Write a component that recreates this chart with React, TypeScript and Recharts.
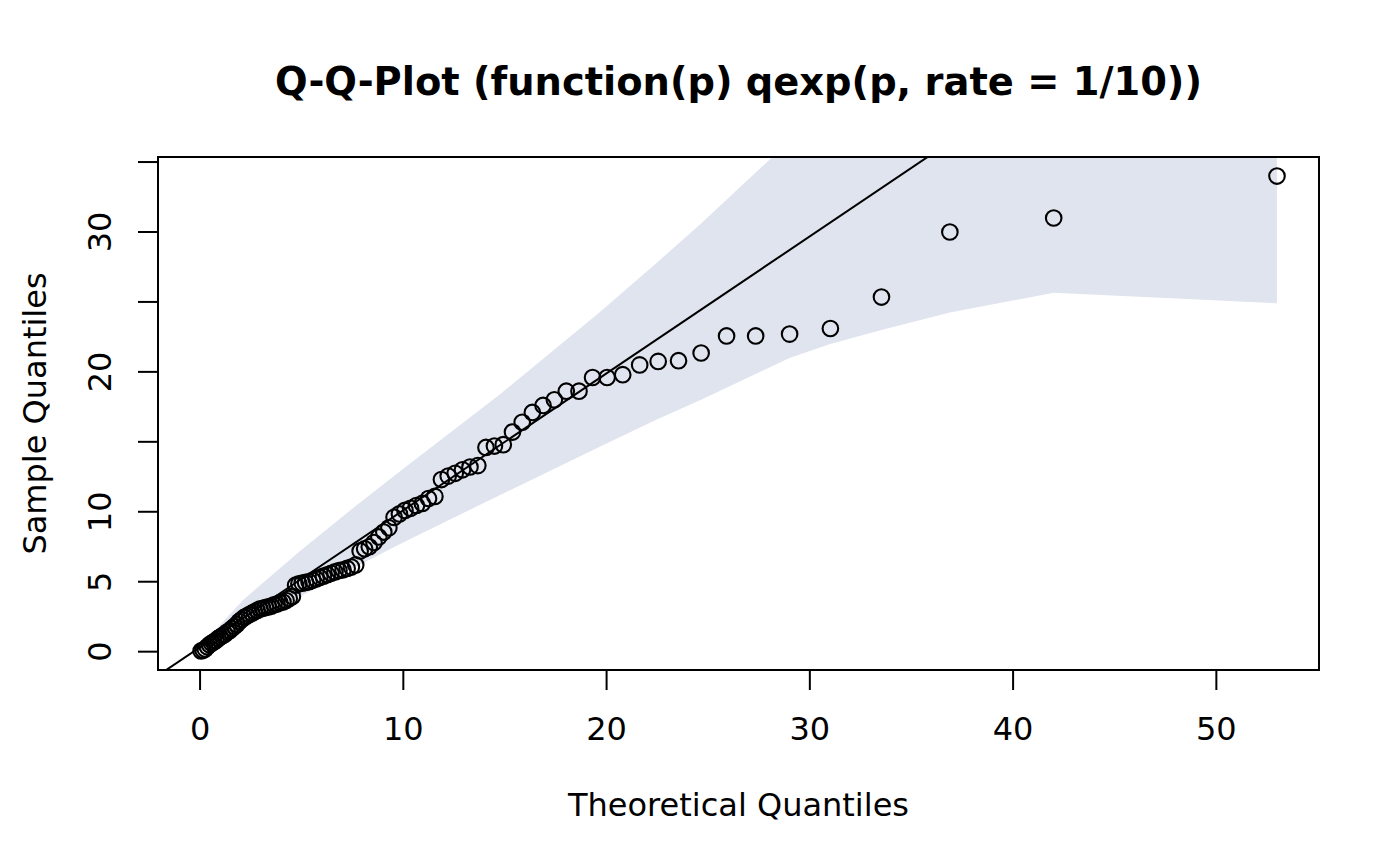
import React from "react";
import { ComposedChart, Area, Scatter, XAxis, YAxis, ReferenceLine, ReferenceArea } from "recharts";

// theoretical quantiles of exp(rate = 1/10) for n = 100
const theoretical = [
    0.050, 0.151, 0.253, 0.356, 0.460, 0.566, 0.672, 0.780, 0.888, 0.998,
    1.109, 1.222, 1.335, 1.450, 1.567, 1.684, 1.803, 1.924, 2.046, 2.169,
    2.294, 2.421, 2.549, 2.679, 2.810, 2.944, 3.079, 3.216, 3.355, 3.496,
    3.638, 3.783, 3.930, 4.080, 4.231, 4.385, 4.541, 4.700, 4.861, 5.025,
    5.192, 5.361, 5.534, 5.709, 5.888, 6.070, 6.255, 6.444, 6.636, 6.832,
    7.032, 7.236, 7.444, 7.657, 7.875, 8.097, 8.324, 8.557, 8.795, 9.039,
    9.289, 9.545, 9.808, 10.079, 10.356, 10.642, 10.936, 11.239, 11.552, 11.874,
    12.208, 12.553, 12.910, 13.280, 13.665, 14.065, 14.482, 14.917, 15.371, 15.848,
    16.348, 16.874, 17.430, 18.018, 18.643, 19.310, 20.025, 20.794, 21.628, 22.538,
    23.539, 24.651, 25.903, 27.334, 29.004, 31.011, 33.524, 36.889, 41.997, 52.983,
];

// sorted sample values
const sample = [
    0.05, 0.10, 0.20, 0.35, 0.50, 0.60, 0.70, 0.80, 0.95, 1.05,
    1.15, 1.25, 1.40, 1.50, 1.65, 1.80, 1.95, 2.15, 2.30, 2.45,
    2.55, 2.65, 2.75, 2.85, 2.95, 3.05, 3.10, 3.15, 3.20, 3.25,
    3.35, 3.40, 3.50, 3.55, 3.65, 3.80, 3.95, 4.75, 4.85, 4.90,
    4.95, 5.00, 5.10, 5.20, 5.30, 5.40, 5.50, 5.60, 5.70, 5.80,
    5.85, 5.95, 6.05, 6.20, 7.20, 7.35, 7.50, 7.80, 8.20, 8.55,
    8.85, 9.60, 9.85, 10.10, 10.25, 10.45, 10.60, 10.95, 11.10, 12.30,
    12.55, 12.75, 13.00, 13.20, 13.30, 14.60, 14.70, 14.80, 15.70, 16.40,
    17.10, 17.60, 18.00, 18.62, 18.62, 19.60, 19.60, 19.80, 20.50, 20.75,
    20.80, 21.35, 22.57, 22.57, 22.70, 23.10, 25.35, 30.00, 31.00, 34.00,
];

// confidence band
const bandX = [0.05, 1.0, 2.12, 4.92, 7.38, 9.84, 14.76, 19.69, 22.47, 24.65, 29.0, 31.0, 33.52, 36.89, 42.0, 52.98];
const bandLower = [0.04, 0.75, 1.8, 3.95, 5.86, 7.7, 11.2, 14.66, 16.6, 18.0, 21.0, 22.0, 23.0, 24.25, 25.65, 24.9];
const bandUpper = [0.35, 1.95, 3.7, 7.2, 10.1, 12.9, 18.4, 24.3, 27.8, 30.6, 36.5, 39.2, 42.5, 46.5, 53.0, 67.0];

// qq line
const lineIntercept = 0.32;
const lineSlope = 0.979;

const xTicks = [0, 10, 20, 30, 40, 50];
const yTicks = [0, 5, 10, 15, 20, 25, 30, 35];
const yTickLabels = [0, 5, 10, 20, 30];
const xDomain = [-2.07, 55.05];
const yDomain = [-1.31, 35.36];

const points = theoretical.map((x, i) => ({ x, y: sample[i] }));
const bandData = bandX.map((x, i) => ({ x, band: [bandLower[i], bandUpper[i]] }));
const lineStart = -5;
const lineEnd = 60;

const FONT = "'DejaVu Sans', Arial, sans-serif";

const XTick = (props: any) => {
    const { x, y, payload } = props;
    return (
        <text x={x} y={y + 50} textAnchor="middle" fontSize={32} fontFamily={FONT} fill="#000">
            {payload.value}
        </text>
    );
};

const YTick = (props: any) => {
    const { x, y, payload } = props;
    if (!yTickLabels.includes(payload.value)) return <g />;
    const tx = x - 27;
    return (
        <text x={tx} y={y} transform={`rotate(-90, ${tx}, ${y})`} textAnchor="middle" fontSize={32} fontFamily={FONT} fill="#000">
            {payload.value}
        </text>
    );
};

const Circle = (props: any) => {
    const { cx, cy } = props;
    return <circle cx={cx} cy={cy} r={7.8} fill="none" stroke="#000" strokeWidth={2.1} />;
};

export default function App() {
    return (
        <div style={{ position: "absolute", left: 0, top: 0, width: 1400, height: 866, background: "#fff" }}>
            <ComposedChart
                width={1400}
                height={866}
                data={bandData}
                margin={{ top: 157, right: 81, left: 98, bottom: 136 }}
            >
                <XAxis
                    dataKey="x"
                    type="number"
                    domain={xDomain}
                    ticks={xTicks}
                    allowDataOverflow
                    axisLine={false}
                    tickLine={{ stroke: "#000", strokeWidth: 2 }}
                    tickSize={20}
                    tickMargin={0}
                    height={60}
                    tick={<XTick />}
                />
                <YAxis
                    type="number"
                    domain={yDomain}
                    ticks={yTicks}
                    allowDataOverflow
                    axisLine={false}
                    tickLine={{ stroke: "#000", strokeWidth: 2 }}
                    tickSize={20}
                    tickMargin={0}
                    width={60}
                    tick={<YTick />}
                />
                <Area
                    type="linear"
                    dataKey="band"
                    fill="#E0E4EF"
                    fillOpacity={1}
                    stroke="none"
                    isAnimationActive={false}
                />
                <Scatter data={points} dataKey="y" shape={<Circle />} isAnimationActive={false} />
                <ReferenceLine
                    segment={[
                        { x: lineStart, y: lineIntercept + lineSlope * lineStart },
                        { x: lineEnd, y: lineIntercept + lineSlope * lineEnd },
                    ]}
                    stroke="#000"
                    strokeWidth={2}
                    ifOverflow="hidden"
                />
                <ReferenceArea
                    x1={xDomain[0]}
                    x2={xDomain[1]}
                    y1={yDomain[0]}
                    y2={yDomain[1]}
                    fill="none"
                    stroke="#000"
                    strokeWidth={2}
                    ifOverflow="visible"
                />
                <text x={738.5} y={95} textAnchor="middle" fontSize={38.4} fontWeight="bold" fontFamily={FONT} fill="#000">
                    Q-Q-Plot (function(p) qexp(p, rate = 1/10))
                </text>
                <text x={738.5} y={816} textAnchor="middle" fontSize={32} fontFamily={FONT} fill="#000">
                    Theoretical Quantiles
                </text>
                <text x={46} y={413.5} transform="rotate(-90, 46, 413.5)" textAnchor="middle" fontSize={32} fontFamily={FONT} fill="#000">
                    Sample Quantiles
                </text>
            </ComposedChart>
        </div>
    );
}
